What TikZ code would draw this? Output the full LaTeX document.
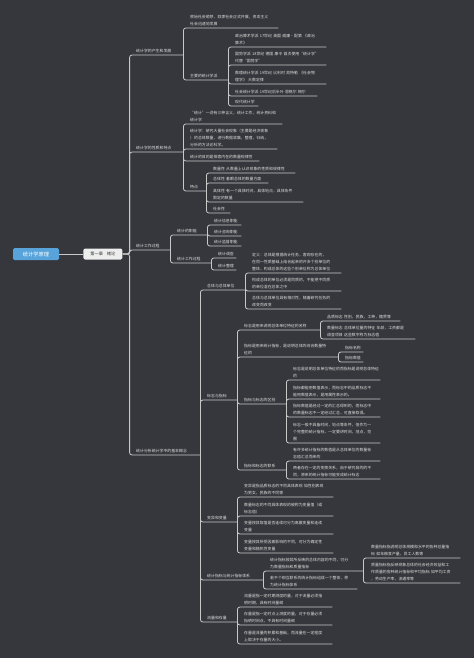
\documentclass[tikz,border=0pt]{standalone}
\usepackage{fontspec}
\newfontfamily\cjk{Noto Sans CJK SC}
\usetikzlibrary{positioning}
\definecolor{bgcol}{RGB}{54,55,60}
\definecolor{linecol}{RGB}{200,200,200}
\definecolor{txtcol}{RGB}{222,222,222}
\definecolor{rootcol}{RGB}{88,164,218}

\begin{document}
\begin{tikzpicture}[x=1pt, y=-1pt,
  topic/.style={anchor=south west, xshift=7pt, inner xsep=0pt, inner ysep=1.6pt, align=left, text=txtcol, font=\cjk\fontsize{3.9}{7.3}\selectfont},
  link/.style={draw=linecol, line width=0.8pt, rounded corners=2.5pt}]
  \fill[bgcol] (0,0) rectangle (474,658);

  \node[fill=rootcol, rounded corners=1.5pt, minimum width=46pt, minimum height=12pt, text=white, font=\cjk\fontsize{5.2}{6}\selectfont] (root) at (36,254) {统计学原理};
  \node[right=24pt of root, fill=white!93!black, rounded corners=1.5pt, minimum width=39pt, minimum height=11pt, text=black!80, font=\cjk\fontsize{4.2}{5}\selectfont] (chapter) {第一章\hspace{4pt}绪论};
  \coordinate[right=7pt of chapter] (hub);

  \node[topic, text width=47pt] (birth) at (129,55) {统计学的产生和发展};
  \node[topic, text width=47pt] (nature) at (129,152) {统计学的性质和特点};
  \node[topic, text width=34pt] (process) at (129,250) {统计工作过程};
  \node[topic, text width=64pt] (concepts) at (129,455) {统计分析统计学中的基本概念};

  \node[topic, text width=88pt] (origin) at (183,28) {原始社会萌芽，奴隶社会正式开展，资本主义\\社会迅速地发展};
  \node[topic, text width=38pt] (schools) at (183,80) {主要的统计学派};
  \node[topic, text width=91pt] (school 1) at (228,47) {政治算术学派 17世纪 英国 威廉·配第 《政治\\算术》};
  \node[topic, text width=91pt] (school 2) at (228,65) {国势学派 18世纪 德国 康令 首次使用“统计学”\\代替“国势学”};
  \node[topic, text width=91pt] (school 3) at (228,84) {数理统计学派 19世纪 比利时 凯特勒 《社会物\\理学》 大数定律};
  \node[topic, text width=82pt] (school 4) at (228,96) {社会统计学派 19世纪后半叶 恩格尔 梅尔};
  \node[topic, text width=23pt] (school 5) at (228,106) {现代统计学};

  \node[topic, text width=92pt] (meaning) at (183,124) {“统计”一词有三种含义，统计工作，统计资料和\\统计学};
  \node[topic, text width=87pt] (definition) at (183,149) {统计学：研究大量社会现象（主要是经济现象\\）的总体数量，进行数据收集，整理，归纳，\\分析的方法论科学。};
  \node[topic, text width=69pt] (purpose) at (183,161) {统计的目的是探索内在的数量规律性};
  \node[topic, text width=16pt] (features) at (183,191) {特点};
  \node[topic, text width=82pt] (feature 1) at (206,173) {数量性 从数量上认识现象的性质和规律性};
  \node[topic, text width=55pt] (feature 2) at (206,183) {总体性 着眼总体的数量方面};
  \node[topic, text width=90pt] (feature 3) at (206,202) {具体性 有一个具体时间，具体地点，具体条件\\限定的数量};
  \node[topic, text width=17pt] (feature 4) at (206,213) {社会性};

  \node[topic, text width=30pt] (functions) at (170,235) {统计的职能};
  \node[topic, text width=34pt] (workflow) at (170,263) {统计工作过程};
  \node[topic, text width=27pt] (function 1) at (207,225) {统计信息职能};
  \node[topic, text width=27pt] (function 2) at (207,236) {统计咨询职能};
  \node[topic, text width=27pt] (function 3) at (207,246) {统计监督职能};
  \node[topic, text width=18pt] (stage 1) at (211,258) {统计调查};
  \node[topic, text width=18pt] (stage 2) at (211,270) {统计整理};

  \node[topic, text width=38pt] (population) at (200,290) {总体与总体单位};
  \node[topic, text width=30pt] (marks) at (200,400) {标志与指标};
  \node[topic, text width=30pt] (variation) at (200,522) {变异和变量};
  \node[topic, text width=56pt] (system) at (200,580) {统计指标与统计指标体系};
  \node[topic, text width=30pt] (flows) at (200,622) {流量和存量};

  \node[topic, text width=89pt] (population 1) at (245,273) {定义：总体是根据统计任务，客观存在的，\\在同一性质基础上结合起来的许多个别单位的\\整体，构成总体的这些个别单位称为总体单位};
  \node[topic, text width=89pt] (population 2) at (245,291) {构成总体的单位必须是同质的，不能把不同质\\的单位混在总体之中};
  \node[topic, text width=89pt] (population 3) at (245,309) {总体与总体单位具有相对性，随着研究任务的\\改变而改变};

  \node[topic, text width=76pt] (mark def) at (237,330) {标志是用来说明总体单位特征的名称};
  \node[topic, text width=94pt] (index def) at (237,357) {指标是用来统计指标，是说明总体的综合数量特\\征的};
  \node[topic, text width=42pt] (difference) at (237,404) {指标与标志的区别};
  \node[topic, text width=42pt] (relation) at (237,470) {指标和标志的联系};
  \node[topic, text width=73pt] (quality mark) at (320,321) {品质标志 性别，民族，工种，籍贯等};
  \node[topic, text width=88pt] (quantity mark) at (320,339) {数量标志 总体单位量的特征 年龄，工资都是\\调查项目 这些数字称为标志值};
  \node[topic, text width=18pt] (index name) at (338,352) {指标名称};
  \node[topic, text width=18pt] (index value) at (338,362) {指标数值};
  \node[topic, text width=87pt] (difference 1) at (286,380) {标志是说明总体单位特征的而指标是说明总体特征\\的};
  \node[topic, text width=87pt] (difference 2) at (286,399) {指标都能用数值表示，而标志中的品质标志不\\能用数值表示，是用属性表示的。};
  \node[topic, text width=87pt] (difference 3) at (286,417) {指标数值是经过一定的汇总得到的，而标志中\\的数量标志不一定经过汇总，可直接取得。};
  \node[topic, text width=87pt] (difference 4) at (286,443) {标志一般不具备时间，地点等条件，但作为一\\个完整的统计指标，一定要讲时间，地点，范\\围};
  \node[topic, text width=87pt] (relation 1) at (286,461) {有许多统计指标的数值是从总体单位的数量标\\志值汇总而来的};
  \node[topic, text width=87pt] (relation 2) at (286,479) {两者存在一定的变换关系，由于研究目的的不\\同，原来的统计指标可能变成统计标志};

  \node[topic, text width=89pt] (variation 1) at (237,497) {变异是指品质标志的不同具体表现 如性别表现\\为男女，民族的不同等};
  \node[topic, text width=89pt] (variation 2) at (237,516) {数量标志的不同具体表现的被称为变量值（或\\标志值）};
  \node[topic, text width=89pt] (variation 3) at (237,534) {变量按其取值是否连续可分为离散变量和连续\\变量};
  \node[topic, text width=89pt] (variation 4) at (237,553) {变量按其所受因素影响的不同，可分为确定性\\变量和随机性变量};

  \node[topic, text width=93pt] (system 1) at (263,571) {统计指标按其所反映的总体内容的不同，可分\\为数量指标和质量指标};
  \node[topic, text width=87pt] (system 2) at (263,589) {若干个相互联系的统计指标组成一个整体，称\\为统计指标体系};
  \node[topic, text width=89pt] (quantity index) at (364,558) {数量指标指说明总体规模和水平的各种总量指\\标 如年粮食产量，员工人数等};
  \node[topic, text width=89pt] (quality index) at (364,583) {质量指标指反映现象总体的社会经济效益和工\\作质量的各种统计指标和平均指标 如平均工资\\，劳动生产率，流通率等};

  \node[topic, text width=88pt] (flow 1) at (237,607) {流量是指一定时期测度的量，对于流量必须指\\明时期，具有时间量纲};
  \node[topic, text width=88pt] (flow 2) at (237,625) {存量是指一定时点上测度的量，对于存量必须\\指明时间点，不具有时间量纲};
  \node[topic, text width=88pt] (flow 3) at (237,644) {存量是流量的积累和基础，而流量在一定程度\\上取决于存量的大小。};

  \draw[link] (root) -- (chapter);
  \foreach \b in {birth, nature, process, concepts}
    \draw[link] (chapter.east) -- (hub) |- (\b.south east);
  \foreach \a/\b in {birth/origin, birth/schools, schools/school 1, schools/school 2, schools/school 3, schools/school 4, schools/school 5,
      nature/meaning, nature/definition, nature/purpose, nature/features, features/feature 1, features/feature 2, features/feature 3, features/feature 4,
      process/functions, process/workflow, functions/function 1, functions/function 2, functions/function 3, workflow/stage 1, workflow/stage 2,
      concepts/population, concepts/marks, concepts/variation, concepts/system, concepts/flows,
      population/population 1, population/population 2, population/population 3,
      marks/mark def, marks/index def, marks/difference, marks/relation, mark def/quality mark, mark def/quantity mark, index def/index name, index def/index value,
      difference/difference 1, difference/difference 2, difference/difference 3, difference/difference 4, relation/relation 1, relation/relation 2,
      variation/variation 1, variation/variation 2, variation/variation 3, variation/variation 4,
      system/system 1, system/system 2, system 1/quantity index, system 1/quality index,
      flows/flow 1, flows/flow 2, flows/flow 3}
    \draw[link] (\a.south east) |- (\b.south east);
\end{tikzpicture}
\end{document}
